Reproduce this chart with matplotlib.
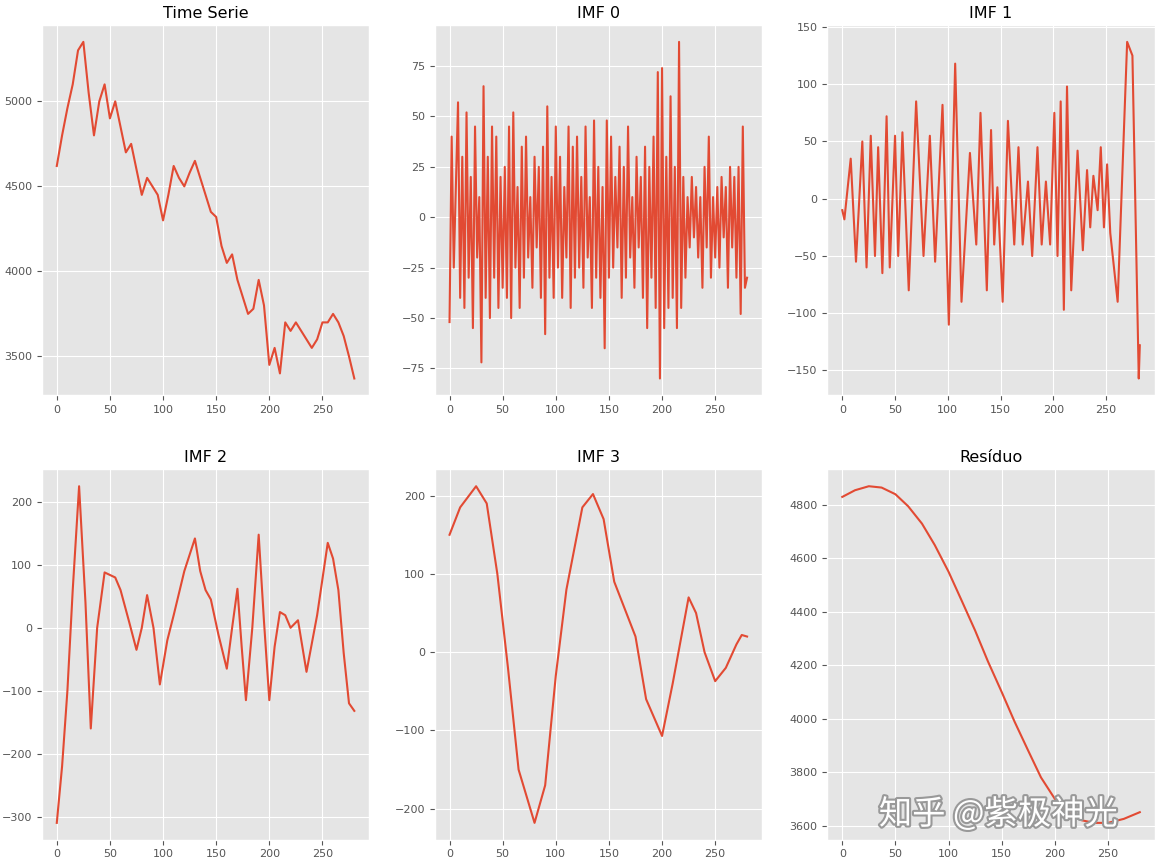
import matplotlib
matplotlib.use("Agg")
import matplotlib.pyplot as plt
import matplotlib.patheffects as pe
from matplotlib.ticker import MultipleLocator

plt.style.use("ggplot")

ts_x = list(range(0, 281, 5))
ts_y = [4620, 4800, 4960, 5100, 5300, 5350, 5050, 4800, 5000, 5100, 4900, 5000, 4850, 4700, 4750,
        4600, 4450, 4550, 4500, 4450, 4300, 4450, 4620, 4550, 4500, 4580, 4650, 4550, 4450, 4350,
        4320, 4150, 4050, 4100, 3950, 3850, 3750, 3780, 3950, 3800, 3450, 3550, 3400, 3700, 3650,
        3700, 3650, 3600, 3550, 3600, 3700, 3700, 3750, 3700, 3620, 3500, 3370]

imf0_x = list(range(0, 282, 2))
imf0_y = [-52, 40, -25, 15, 57, -40, 30, -45, 52, -30, 20, -55, 45, -20, 10, -72, 65, -40, 30, -50,
          45, -30, 40, -45, 20, -35, 25, -40, 45, -50, 52, -25, 15, -45, 35, -30, 40, -20, 10, -35,
          30, -15, 25, -40, 35, -58, 55, -30, 20, -40, 45, -25, 30, -40, 15, -20, 45, -45, 35, -30,
          40, -25, 20, -35, 45, -20, 10, -45, 48, -30, 25, -40, 15, -65, 48, -30, 40, -25, 20, -15,
          35, -40, 25, -30, 45, -20, 10, -35, 30, -15, 20, -40, 35, -55, 25, -30, 40, -45, 72, -80,
          74, -55, 30, -45, 60, -40, 25, -55, 87, -45, 20, -30, 10, -15, 20, -10, 15, -20, 10, -35,
          25, -15, 40, -30, 10, -20, 15, -25, 20, -10, 15, -35, 25, -15, 20, -30, 25, -48, 45, -35, -30]

imf1_x = [0, 2, 8, 13, 19, 23, 27, 31, 34, 38, 42, 45, 50, 53, 57, 63, 70, 77, 83, 88, 95, 101, 107,
          113, 121, 127, 131, 137, 141, 144, 147, 152, 157, 163, 167, 171, 176, 180, 185, 189, 193,
          197, 201, 204, 207, 210, 213, 217, 223, 228, 232, 235, 238, 242, 245, 248, 251, 254, 261,
          270, 275, 281, 282]
imf1_y = [-10, -18, 35, -55, 50, -60, 55, -50, 45, -65, 72, -60, 55, -50, 58, -80, 85, -50, 55, -55,
          82, -110, 118, -90, 40, -40, 75, -80, 60, -40, 10, -90, 68, -40, 45, -40, 15, -50, 45, -40,
          15, -40, 75, -50, 85, -97, 98, -80, 42, -45, 25, -25, 20, -10, 45, -25, 30, -30, -90,
          137, 125, -157, -128]

imf2_x = [0, 5, 10, 15, 21, 27, 32, 38, 45, 55, 60, 68, 75, 80, 85, 91, 97, 104, 110, 120, 130, 135,
          140, 145, 152, 160, 165, 170, 174, 178, 184, 190, 195, 200, 205, 210, 215, 220, 227, 235,
          245, 255, 260, 265, 270, 275, 280]
imf2_y = [-310, -220, -100, 60, 225, 40, -160, 0, 88, 80, 60, 10, -35, 0, 52, 0, -90, -20, 20, 90, 142,
          90, 60, 45, -10, -65, 0, 62, -30, -115, 0, 148, 10, -115, -30, 25, 20, 0, 12, -70, 20, 135,
          110, 60, -40, -120, -132]

imf3_x = [0, 10, 25, 35, 45, 55, 65, 80, 90, 100, 110, 125, 135, 145, 155, 165, 175, 185, 200, 210,
          225, 232, 240, 250, 260, 270, 275, 280]
imf3_y = [150, 185, 212, 190, 100, -20, -150, -218, -170, -30, 80, 185, 202, 170, 90, 55, 20, -60, -107,
          -40, 70, 50, 0, -37, -20, 10, 22, 20]

res_x = [0, 12, 25, 37, 50, 62, 75, 87, 100, 112, 125, 137, 150, 162, 175, 187, 200, 212, 225, 237,
         250, 265, 280]
res_y = [4830, 4855, 4870, 4865, 4840, 4795, 4730, 4650, 4550, 4445, 4330, 4215, 4100, 3990, 3880, 3780,
         3700, 3650, 3620, 3610, 3610, 3625, 3650]

titles = ["Time Serie", "IMF 0", "IMF 1", "IMF 2", "IMF 3", "Resíduo"]
series = [(ts_x, ts_y), (imf0_x, imf0_y), (imf1_x, imf1_y),
          (imf2_x, imf2_y), (imf3_x, imf3_y), (res_x, res_y)]

fig, axes = plt.subplots(2, 3, figsize=(11.64, 8.63), dpi=100)
for ax, t, (x, y) in zip(axes.flat, titles, series):
    ax.plot(x, y, color="#E24A33", lw=1.5)
    ax.set_title(t, fontsize=11.5, pad=5)
    ax.tick_params(labelsize=8)
    ax.set_xticks([0, 50, 100, 150, 200, 250])
axes[0, 0].yaxis.set_major_locator(MultipleLocator(500))
fig.subplots_adjust(left=0.036, right=0.992, top=0.971, bottom=0.027, wspace=0.2, hspace=0.2)
fig.text(0.755, 0.045, "知乎 @紫极神光", fontsize=24, color="white",
         family=["Noto Sans CJK SC", "DejaVu Sans"],
         path_effects=[pe.withStroke(linewidth=3, foreground="#999999")])
fig.savefig("out.png")
